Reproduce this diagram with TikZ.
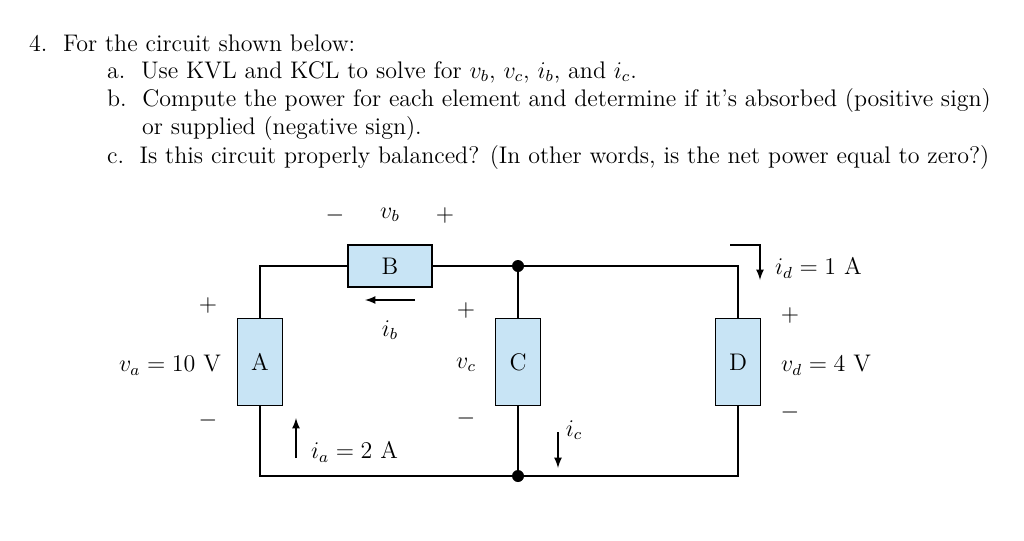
\documentclass[tikz,border=0pt]{standalone}
\usepackage{amsmath}
\definecolor{elemblue}{RGB}{200,228,245}
\tikzset{
  elem/.style={draw,thick,fill=elemblue,minimum width=22.5pt,minimum height=43.5pt,inner sep=0pt,font=\large},
  wire/.style={thick},
  lbl/.style={font=\large},
  cur/.style={thick,-latex}
}
\begin{document}
\begin{tikzpicture}[x=0.5pt,y=-0.5pt]
    \useasboundingbox (0,0) rectangle (1024,541);

    % problem text
    \node[lbl,anchor=west] at (22,43)  {4.\ \ For the circuit shown below:};
    \node[lbl,anchor=west] at (100,72) {a.\ \ Use KVL and KCL to solve for $v_b$, $v_c$, $i_b$, and $i_c$.};
    \node[lbl,anchor=west] at (100,101) {b.\ \ Compute the power for each element and determine if it's absorbed (positive sign)};
    \node[lbl,anchor=west] at (135,129) {or supplied (negative sign).};
    \node[lbl,anchor=west] at (100,158) {c.\ \ Is this circuit properly balanced? (In other words, is the net power equal to zero?)};

    % elements
    \node[elem] (A) at (260,362) {A};
    \node[elem,minimum width=42pt,minimum height=21pt] (B) at (390,266) {B};
    \node[elem] (C) at (518,362) {C};
    \node[elem] (D) at (738,362) {D};

    % wires
    \coordinate (tl) at (260,266);
    \coordinate (bl) at (260,476);
    \coordinate (tr) at (738,266);
    \coordinate (br) at (738,476);
    \coordinate (tc) at (518,266);
    \coordinate (bc) at (518,476);
    \draw[wire] (A.north) -- (tl) -- (B.west);
    \draw[wire] (B.east) -- (tr) -- (D.north);
    \draw[wire] (A.south) -- (bl) -- (br) -- (D.south);
    \draw[wire] (tc) -- (C.north);
    \draw[wire] (C.south) -- (bc);
    \fill (tc) circle (6);
    \fill (bc) circle (6);

    % element labels
    \node[lbl] at (335,215) {$-$};
    \node[lbl] at (390,215) {$v_b$};
    \node[lbl] at (445,215) {$+$};
    \draw[cur] (415,300) -- (365,300);
    \node[lbl] at (390,330) {$i_b$};

    \node[lbl] at (208,305) {$+$};
    \node[lbl] at (170,365) {$v_a = 10$ V};
    \node[lbl] at (208,420) {$-$};
    \draw[cur] (296,458) -- (296,418);
    \node[lbl,anchor=west] at (304,452) {$i_a = 2$ A};

    \node[lbl] at (466,310) {$+$};
    \node[lbl] at (466,365) {$v_c$};
    \node[lbl] at (466,418) {$-$};
    \draw[cur] (558,432) -- (558,468);
    \node[lbl] at (574,430) {$i_c$};

    \draw[cur] (730,245) -- (760,245) -- (760,280);
    \node[lbl,anchor=west] at (768,268) {$i_d = 1$ A};
    \node[lbl] at (790,315) {$+$};
    \node[lbl] at (826,365) {$v_d = 4$ V};
    \node[lbl] at (790,412) {$-$};
\end{tikzpicture}
\end{document}
